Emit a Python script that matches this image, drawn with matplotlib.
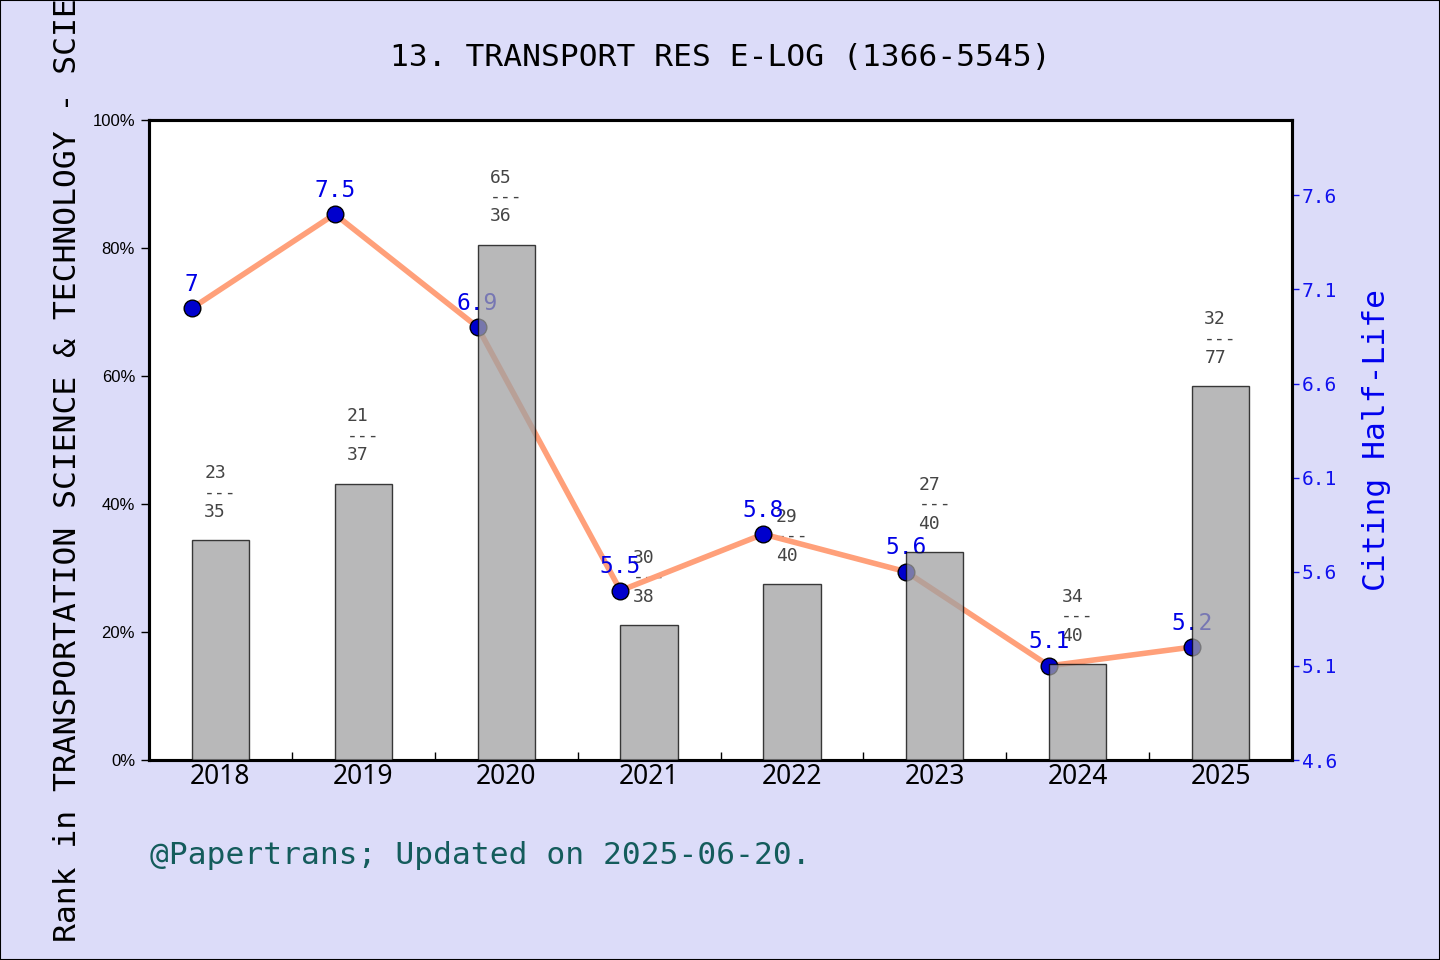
import matplotlib
matplotlib.use("Agg")
import matplotlib.pyplot as plt
from matplotlib.ticker import FuncFormatter, FixedLocator
from matplotlib.patches import Rectangle
import numpy as np

years = ['2018', '2019', '2020', '2021', '2022', '2023', '2024', '2025']
rank_pct = [34.3, 43.2, 80.5, 21.1, 27.5, 32.5, 15.0, 58.4]
rank_num = [23, 21, 65, 30, 29, 27, 34, 32]
rank_total = [35, 37, 36, 38, 40, 40, 40, 77]
half_life = [7.0, 7.5, 6.9, 5.5, 5.8, 5.6, 5.1, 5.2]
half_life_ticks = [4.6, 5.1, 5.6, 6.1, 6.6, 7.1, 7.6]

title = "13. TRANSPORT RES E-LOG (1366-5545)"
left_label = "Rank in TRANSPORTATION SCIENCE & TECHNOLOGY - SCIE"
right_label = "Citing Half-Life"
footer = "@Papertrans; Updated on 2025-06-20."

MONO = 'DejaVu Sans Mono'
BG = '#dcdcf9'

fig = plt.figure(figsize=(14.4, 9.6), dpi=100, facecolor=BG)
fig.patches.append(Rectangle((0, 0), 1, 1, transform=fig.transFigure,
                             fill=False, edgecolor='black', linewidth=1.5, zorder=10))

L, R, T, B = 149/1440, 1292/1440, 1 - 120/960, 1 - 760/960
ax = fig.add_axes([L, B, R - L, T - B])
ax2 = ax.twinx()

# line axes below bars
ax.set_zorder(2)
ax.patch.set_visible(False)
ax2.set_zorder(1)
ax2.patch.set_visible(True)
ax2.patch.set_facecolor('white')

x = np.arange(len(years))

# bars
ax.bar(x, np.array(rank_pct) / 100.0, width=0.4, color='#a0a0a2', alpha=0.75,
       edgecolor='black', linewidth=1.0, zorder=3)
ax.set_xlim(-0.5, len(years) - 0.5)
ax.set_ylim(0, 1)
ax.yaxis.set_major_locator(FixedLocator([0, 0.2, 0.4, 0.6, 0.8, 1.0]))
ax.yaxis.set_major_formatter(FuncFormatter(lambda v, p: f"{int(round(v*100))}%"))
ax.tick_params(axis='y', direction='out', length=6, width=1, labelsize=12,
               pad=4, colors='black')
for lab in ax.get_yticklabels():
    lab.set_family('Liberation Sans')

ax.set_xticks(x)
ax.set_xticklabels(years, fontsize=19, family='Noto Sans')
ax.tick_params(axis='x', which='major', length=0, pad=2)
ax.set_xticks(x[:-1] + 0.5, minor=True)
ax.tick_params(axis='x', which='minor', direction='in', length=6, width=1)

for s in ax.spines.values():
    s.set_linewidth(2.2)
for s in ax2.spines.values():
    s.set_linewidth(2.2)

# bar labels (under line)
for i in range(len(years)):
    ax2.annotate(f"{rank_num[i]}\n---\n{rank_total[i]}",
                 xy=(x[i], rank_pct[i] / 100.0), xycoords=ax.transData,
                 xytext=(0, 14), textcoords='offset points',
                 ha='center', va='bottom', multialignment='left',
                 fontsize=13, family=MONO, color='#444444',
                 linespacing=1.1, zorder=1)

# line
ax2.plot(x - 0.2, half_life, color='#ffa07a', linewidth=4, zorder=2,
         marker='o', markersize=12, markerfacecolor='#0000cd',
         markeredgecolor='black', markeredgewidth=1)
for i in range(len(years)):
    ax2.annotate(f"{half_life[i]:g}", xy=(x[i] - 0.2, half_life[i]),
                 xytext=(0, 9), textcoords='offset points',
                 ha='center', va='bottom', fontsize=16.5, family=MONO,
                 color='#0000e6', zorder=3)

ax2.set_ylim(4.6, 8.0)
ax2.set_yticks(half_life_ticks)
ax2.set_yticklabels([f"{v:.1f}" for v in half_life_ticks], family=MONO,
                    fontsize=14)
ax2.tick_params(axis='y', direction='out', length=5, width=1, colors='#1010ee',
                pad=2)
ax2.set_ylabel(right_label, fontsize=22.5, family=MONO, color='#0000ee',
               labelpad=18)

# texts
fig.text(0.5, 1 - 57/960, title, ha='center', va='center', fontsize=22.5,
         family=MONO, color='black')
fig.text(68/1440, 1 - 942/960, left_label, rotation=90, ha='center',
         va='bottom', fontsize=22.6, family=MONO, color='black')
fig.text(150/1440, 1 - 855/960, footer, ha='left', va='center', fontsize=22.5,
         family=MONO, color='#145c5c')

fig.savefig('out.png', dpi=100, facecolor=BG)
